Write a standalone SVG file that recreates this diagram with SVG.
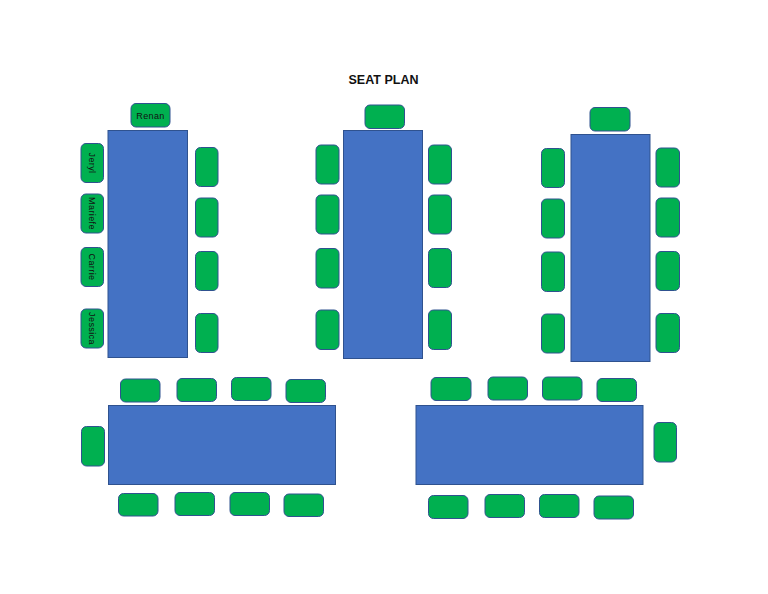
<svg xmlns="http://www.w3.org/2000/svg" width="768" height="594" viewBox="0 0 768 594">
<style>
.table{fill:#4472C4;stroke:#2F528F;stroke-width:1}
.chair{fill:#00B050;stroke:#2F528F;stroke-width:1}
.lbl{font-family:"Liberation Sans",Arial,sans-serif;font-size:9px;fill:#111;text-anchor:middle;dominant-baseline:central;letter-spacing:0.4px}
.title{font-family:"Liberation Sans",Arial,sans-serif;font-size:12.5px;font-weight:bold;fill:#111;text-anchor:middle}
</style>
<rect width="768" height="594" fill="#fff"/>
<text class="title" x="383.5" y="84">SEAT PLAN</text>

<g id="table1">
<rect class="table" x="108" y="130.5" width="79.5" height="227"/>
<g id="t1-renan"><rect class="chair" x="131" y="103.5" width="39" height="23.5" rx="5"/><text class="lbl" x="150.5" y="115.5">Renan</text></g>
<g id="t1-jeryl"><rect class="chair" x="81" y="143.5" width="22.5" height="39" rx="5"/><text class="lbl" transform="translate(92,163) rotate(90)">Jeryl</text></g>
<g id="t1-mariefe"><rect class="chair" x="81" y="194" width="22.5" height="39" rx="5"/><text class="lbl" transform="translate(92,213.5) rotate(90)">Mariefe</text></g>
<g id="t1-carrie"><rect class="chair" x="81" y="247.5" width="22.5" height="39" rx="5"/><text class="lbl" transform="translate(92,267) rotate(90)">Carrie</text></g>
<g id="t1-jessica"><rect class="chair" x="81" y="309" width="22.5" height="39" rx="5"/><text class="lbl" transform="translate(92,328.5) rotate(90)">Jessica</text></g>
<rect id="t1-r1" class="chair" x="195.5" y="147.5" width="22.5" height="39" rx="5"/>
<rect id="t1-r2" class="chair" x="195.5" y="198" width="22.5" height="39" rx="5"/>
<rect id="t1-r3" class="chair" x="195.5" y="251.5" width="22.5" height="39" rx="5"/>
<rect id="t1-r4" class="chair" x="195.5" y="313.5" width="22.5" height="39" rx="5"/>
</g>

<g id="table2">
<rect class="table" x="343.5" y="130.5" width="79" height="228"/>
<rect id="t2-top" class="chair" x="365" y="105" width="39.5" height="23.5" rx="5"/>
<rect id="t2-l1" class="chair" x="316" y="145" width="23" height="39" rx="5"/>
<rect id="t2-l2" class="chair" x="316" y="195" width="23" height="39" rx="5"/>
<rect id="t2-l3" class="chair" x="316" y="248.5" width="23" height="39.5" rx="5"/>
<rect id="t2-l4" class="chair" x="316" y="310" width="23" height="39.5" rx="5"/>
<rect id="t2-r1" class="chair" x="428.5" y="145" width="23" height="39" rx="5"/>
<rect id="t2-r2" class="chair" x="428.5" y="195" width="23" height="39" rx="5"/>
<rect id="t2-r3" class="chair" x="428.5" y="248.5" width="23" height="39" rx="5"/>
<rect id="t2-r4" class="chair" x="428.5" y="310" width="23" height="39.5" rx="5"/>
</g>

<g id="table3">
<rect class="table" x="571" y="134.5" width="79" height="227"/>
<rect id="t3-top" class="chair" x="590" y="107.5" width="40" height="23.5" rx="5"/>
<rect id="t3-l1" class="chair" x="541.5" y="148.5" width="23" height="39" rx="5"/>
<rect id="t3-l2" class="chair" x="541.5" y="199" width="23" height="39" rx="5"/>
<rect id="t3-l3" class="chair" x="541.5" y="252" width="23" height="39.5" rx="5"/>
<rect id="t3-l4" class="chair" x="541.5" y="314" width="23" height="39" rx="5"/>
<rect id="t3-r1" class="chair" x="656" y="148" width="23.5" height="39" rx="5"/>
<rect id="t3-r2" class="chair" x="656" y="198" width="23.5" height="39" rx="5"/>
<rect id="t3-r3" class="chair" x="656" y="251.5" width="23.5" height="39" rx="5"/>
<rect id="t3-r4" class="chair" x="656" y="313.5" width="23.5" height="39" rx="5"/>
</g>

<g id="table4">
<rect class="table" x="108.5" y="405.5" width="227" height="79"/>
<rect id="t4-t1" class="chair" x="120.5" y="379" width="39.5" height="23" rx="5"/>
<rect id="t4-t2" class="chair" x="177" y="378.5" width="39.5" height="23" rx="5"/>
<rect id="t4-t3" class="chair" x="231.5" y="377.5" width="39.5" height="23" rx="5"/>
<rect id="t4-t4" class="chair" x="286" y="379.5" width="39.5" height="23" rx="5"/>
<rect id="t4-l" class="chair" x="81.5" y="426.5" width="23" height="39.5" rx="5"/>
<rect id="t4-b1" class="chair" x="118.5" y="493.5" width="39.5" height="22.5" rx="5"/>
<rect id="t4-b2" class="chair" x="175" y="492.5" width="39.5" height="23" rx="5"/>
<rect id="t4-b3" class="chair" x="230" y="492.5" width="39.5" height="23" rx="5"/>
<rect id="t4-b4" class="chair" x="284" y="494" width="39.5" height="22.5" rx="5"/>
</g>

<g id="table5">
<rect class="table" x="416" y="405.5" width="227" height="79"/>
<rect id="t5-t1" class="chair" x="431" y="377.5" width="40" height="23" rx="5"/>
<rect id="t5-t2" class="chair" x="488" y="377" width="39.5" height="23" rx="5"/>
<rect id="t5-t3" class="chair" x="542.5" y="377" width="39.5" height="23" rx="5"/>
<rect id="t5-t4" class="chair" x="597" y="378.5" width="39.5" height="23" rx="5"/>
<rect id="t5-r" class="chair" x="654" y="422.5" width="22.5" height="39.5" rx="5"/>
<rect id="t5-b1" class="chair" x="428.5" y="495.5" width="39.5" height="23" rx="5"/>
<rect id="t5-b2" class="chair" x="485" y="494.5" width="39.5" height="23" rx="5"/>
<rect id="t5-b3" class="chair" x="539.5" y="494.5" width="39.5" height="23" rx="5"/>
<rect id="t5-b4" class="chair" x="594" y="496" width="39.5" height="23" rx="5"/>
</g>
</svg>
